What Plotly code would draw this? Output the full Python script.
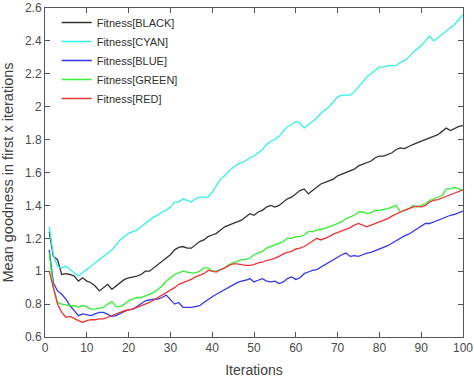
import plotly.graph_objects as go

iterations = list(range(1, 101))

fitness_black = [1.24, 1.09, 1.07, 0.98, 0.985, 0.98, 0.97, 0.94, 0.96, 0.94,
                 0.93, 0.91, 0.88, 0.90, 0.92, 0.89, 0.91, 0.93, 0.95, 0.96,
                 0.965, 0.97, 0.98, 1.00, 1.00, 1.02, 1.04, 1.06, 1.08, 1.10,
                 1.13, 1.145, 1.15, 1.14, 1.14, 1.16, 1.18, 1.19, 1.21, 1.22,
                 1.23, 1.25, 1.27, 1.28, 1.29, 1.30, 1.31, 1.33, 1.35, 1.34,
                 1.36, 1.37, 1.39, 1.40, 1.39, 1.40, 1.42, 1.44, 1.45, 1.47,
                 1.49, 1.50, 1.47, 1.49, 1.51, 1.53, 1.54, 1.55, 1.56, 1.58,
                 1.59, 1.60, 1.61, 1.62, 1.64, 1.65, 1.66, 1.67, 1.69, 1.70,
                 1.70, 1.71, 1.72, 1.74, 1.75, 1.745, 1.76, 1.77, 1.78, 1.79,
                 1.80, 1.81, 1.82, 1.83, 1.85, 1.87, 1.855, 1.87, 1.88, 1.885]

fitness_cyan = [1.27, 1.10, 1.03, 1.02, 1.03, 1.01, 0.99, 0.97, 0.99, 1.01,
                1.03, 1.05, 1.07, 1.09, 1.11, 1.13, 1.16, 1.19, 1.21, 1.23,
                1.24, 1.25, 1.27, 1.29, 1.31, 1.33, 1.34, 1.36, 1.37, 1.39,
                1.42, 1.42, 1.44, 1.43, 1.42, 1.44, 1.45, 1.45, 1.45, 1.48,
                1.52, 1.56, 1.58, 1.61, 1.63, 1.65, 1.66, 1.67, 1.69, 1.70,
                1.72, 1.74, 1.77, 1.79, 1.80, 1.82, 1.85, 1.88, 1.89, 1.91,
                1.90, 1.87, 1.89, 1.91, 1.93, 1.96, 1.98, 2.00, 2.03, 2.06,
                2.07, 2.07, 2.07, 2.09, 2.12, 2.15, 2.18, 2.20, 2.22, 2.24,
                2.24, 2.25, 2.25, 2.25, 2.27, 2.28, 2.30, 2.33, 2.35, 2.37,
                2.40, 2.43, 2.40, 2.42, 2.44, 2.46, 2.48, 2.50, 2.53, 2.56]

fitness_blue = [1.13, 0.93, 0.88, 0.86, 0.83, 0.79, 0.76, 0.73, 0.74, 0.735,
                0.73, 0.74, 0.75, 0.75, 0.735, 0.725, 0.73, 0.745, 0.755, 0.765,
                0.77, 0.785, 0.80, 0.82, 0.825, 0.83, 0.83, 0.84, 0.855, 0.83,
                0.80, 0.81, 0.78, 0.78, 0.78, 0.785, 0.79, 0.81, 0.83, 0.845,
                0.86, 0.875, 0.89, 0.90, 0.915, 0.93, 0.94, 0.945, 0.955, 0.935,
                0.945, 0.955, 0.94, 0.935, 0.94, 0.925, 0.935, 0.955, 0.965, 0.95,
                0.96, 0.985, 0.995, 1.005, 1.01, 1.025, 1.04, 1.06, 1.075, 1.09,
                1.10, 1.11, 1.09, 1.095, 1.09, 1.10, 1.11, 1.115, 1.125, 1.135,
                1.145, 1.155, 1.17, 1.185, 1.205, 1.215, 1.225, 1.24, 1.255, 1.275,
                1.29, 1.29, 1.30, 1.31, 1.32, 1.33, 1.34, 1.345, 1.355, 1.365]

fitness_green = [1.11, 0.90, 0.81, 0.80, 0.795, 0.79, 0.79, 0.78, 0.79, 0.785,
                 0.77, 0.77, 0.775, 0.78, 0.80, 0.815, 0.785, 0.785, 0.80, 0.82,
                 0.83, 0.84, 0.84, 0.85, 0.86, 0.87, 0.89, 0.91, 0.94, 0.96,
                 0.98, 0.99, 1.00, 0.995, 0.99, 0.99, 1.00, 1.02, 1.02, 1.00,
                 1.00, 1.01, 1.02, 1.04, 1.05, 1.06, 1.07, 1.07, 1.08, 1.10,
                 1.11, 1.12, 1.14, 1.15, 1.16, 1.17, 1.18, 1.20, 1.20, 1.21,
                 1.21, 1.22, 1.24, 1.24, 1.25, 1.255, 1.26, 1.27, 1.28, 1.29,
                 1.30, 1.32, 1.33, 1.34, 1.36, 1.36, 1.35, 1.355, 1.37, 1.37,
                 1.375, 1.38, 1.39, 1.40, 1.36, 1.37, 1.38, 1.40, 1.39, 1.40,
                 1.41, 1.43, 1.44, 1.45, 1.46, 1.50, 1.50, 1.51, 1.50, 1.49]

fitness_red = [1.00, 0.90, 0.80, 0.75, 0.72, 0.725, 0.71, 0.70, 0.69, 0.70,
               0.705, 0.705, 0.71, 0.71, 0.72, 0.73, 0.74, 0.75, 0.76, 0.765,
               0.77, 0.78, 0.79, 0.80, 0.81, 0.825, 0.84, 0.855, 0.865, 0.88,
               0.90, 0.92, 0.93, 0.94, 0.95, 0.965, 0.975, 0.985, 1.005, 1.00,
               0.995, 1.01, 1.02, 1.035, 1.045, 1.045, 1.04, 1.035, 1.035, 1.04,
               1.05, 1.055, 1.065, 1.07, 1.08, 1.09, 1.105, 1.115, 1.12, 1.135,
               1.14, 1.15, 1.165, 1.18, 1.20, 1.19, 1.20, 1.21, 1.225, 1.235,
               1.245, 1.255, 1.265, 1.28, 1.29, 1.28, 1.27, 1.28, 1.29, 1.30,
               1.31, 1.32, 1.335, 1.35, 1.36, 1.37, 1.38, 1.39, 1.395, 1.39,
               1.40, 1.42, 1.43, 1.435, 1.445, 1.455, 1.465, 1.475, 1.485, 1.495]

series_names = ["Fitness[BLACK]", "Fitness[CYAN]", "Fitness[BLUE]", "Fitness[GREEN]", "Fitness[RED]"]
series_values = [fitness_black, fitness_cyan, fitness_blue, fitness_green, fitness_red]
series_colors = ["#333333", "#33EEEE", "#3535EE", "#35EE35", "#EE3535"]

x_ticks = [0, 10, 20, 30, 40, 50, 60, 70, 80, 90, 100]
y_ticks = [0.6, 0.8, 1.0, 1.2, 1.4, 1.6, 1.8, 2.0, 2.2, 2.4, 2.6]
y_tick_labels = ["0.6", "0.8", "1", "1.2", "1.4", "1.6", "1.8", "2", "2.2", "2.4", "2.6"]

fig = go.Figure()
for name, vals, col in zip(series_names, series_values, series_colors):
    fig.add_trace(go.Scatter(x=iterations, y=vals, mode="lines", name=name,
                             line=dict(color=col, width=1.3)))

axis_common = dict(showline=True, linecolor="#555555", linewidth=1, mirror="ticks",
                   ticks="inside", ticklen=5, tickcolor="#555555", showgrid=False,
                   zeroline=False, automargin=False,
                   tickfont=dict(family="Liberation Sans, Arial", size=12, color="#4a4a4a"))

fig.update_layout(
    width=474, height=378,
    margin=dict(l=45, r=11, t=8, b=41),
    paper_bgcolor="white", plot_bgcolor="white",
    font=dict(family="Liberation Sans, Arial", color="#404040"),
    xaxis=dict(range=[0, 100], tickvals=x_ticks,
               title=dict(text="Iterations", font=dict(size=14, color="#404040")),
               **axis_common),
    yaxis=dict(range=[0.6, 2.6], tickvals=y_ticks, ticktext=y_tick_labels,
               title=dict(text="Mean goodness in first x iterations", font=dict(size=14.5, color="#404040")),
               **axis_common),
    legend=dict(x=0.028, y=1.0, xanchor="left", yanchor="top", bgcolor="rgba(255,255,255,0)",
                borderwidth=0, font=dict(size=11, color="#303030"), itemwidth=30,
                tracegroupgap=0),
    showlegend=True,
)

fig.write_html("out.html", config={"displayModeBar": False},
               post_script="document.body.style.margin='0';")
